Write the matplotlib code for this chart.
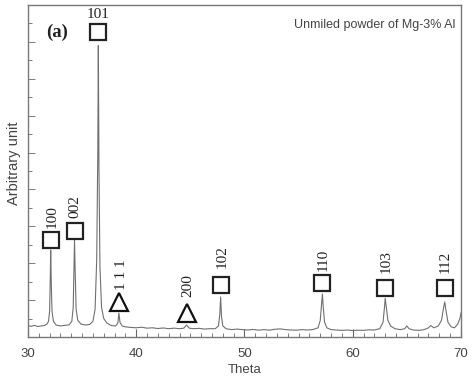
import matplotlib
matplotlib.use("Agg")
import matplotlib.pyplot as plt
from matplotlib.ticker import MultipleLocator, NullFormatter

# ---- data (theta, arbitrary intensity) ----
theta = [30.0, 30.3, 30.6, 30.9, 31.2, 31.5, 31.75,
         31.9, 32.0, 32.06, 32.1, 32.15, 32.22, 32.35, 32.6,
         33.0, 33.4, 33.8, 34.05, 34.18, 34.25, 34.3, 34.36, 34.45, 34.6,
         34.9, 35.3, 35.7, 36.0, 36.2, 36.35, 36.45, 36.5, 36.56, 36.65,
         36.8, 37.0, 37.3, 37.7, 38.1, 38.3, 38.4, 38.5, 38.7,
         39.0, 39.5, 40.0, 40.5, 41.0, 41.5, 42.0, 42.5, 43.0, 43.5,
         44.0, 44.4, 44.65, 44.9, 45.3, 45.8, 46.3, 46.8, 47.3,
         47.6, 47.72, 47.8, 47.88, 48.0, 48.3, 48.8, 49.3, 49.8,
         50.3, 50.8, 51.3, 51.8, 52.3, 52.8, 53.3, 53.8, 54.3, 54.8,
         55.3, 55.8, 56.3, 56.8, 57.0, 57.12, 57.2, 57.28, 57.4, 57.6,
         58.0, 58.5, 59.0, 59.5, 60.0, 60.5, 61.0, 61.5, 62.0, 62.5,
         62.8, 62.95, 63.0, 63.1, 63.25, 63.5, 63.9, 64.4, 64.8, 65.0,
         65.2, 65.6, 66.1, 66.6, 67.0, 67.2, 67.5, 67.9, 68.2, 68.4,
         68.5, 68.6, 68.8, 69.1, 69.4, 69.7, 69.9, 70.0]
intensity = [0.62, 0.58, 0.63, 0.57, 0.60, 0.62, 0.70,
             0.85, 1.4, 3.2, 4.72, 3.0, 1.4, 0.85, 0.65,
             0.60, 0.63, 0.66, 0.85, 1.6, 3.8, 5.26, 3.6, 1.5, 0.90,
             0.70, 0.65, 0.68, 0.85, 1.5, 4.2, 10.0, 15.8, 9.0, 3.8,
             1.6, 1.0, 0.75, 0.62, 0.60, 0.75, 1.3, 0.80, 0.60,
             0.55, 0.52, 0.50, 0.53, 0.48, 0.50, 0.46, 0.49, 0.45, 0.48,
             0.45, 0.48, 0.65, 0.48, 0.45, 0.47, 0.43, 0.45, 0.45,
             0.60, 1.2, 2.17, 1.1, 0.60, 0.45, 0.40, 0.43, 0.40,
             0.38, 0.41, 0.37, 0.40, 0.37, 0.42, 0.44, 0.40, 0.38, 0.37,
             0.40, 0.38, 0.40, 0.50, 0.90, 1.8, 2.33, 1.6, 0.80, 0.50,
             0.40, 0.38, 0.36, 0.38, 0.35, 0.37, 0.36, 0.39, 0.38, 0.45,
             0.80, 1.7, 2.1, 1.6, 0.90, 0.60, 0.45, 0.40, 0.45, 0.60,
             0.45, 0.38, 0.36, 0.40, 0.50, 0.62, 0.50, 0.60, 0.90, 1.6,
             1.9, 1.5, 0.80, 0.55, 0.50, 0.70, 1.0, 1.3]

# ---- peak annotations ----
peak_labels = ["100", "002", "101", "1 1 1", "200", "102", "110", "103", "112"]
peak_theta = [32.1, 34.3, 36.5, 38.45, 44.65, 47.8, 57.2, 63.0, 68.5]
peak_phase = ["Mg", "Mg", "Mg", "Al", "Al", "Mg", "Mg", "Mg", "Mg"]

# layout of the symbols / labels (axis units)
marker_y = [5.26, 5.75, 16.54, 1.9, 1.3, 2.82, 2.93, 2.66, 2.66]
label_y = [6.55, 7.05, 17.5, 3.4, 2.8, 4.34, 4.2, 4.07, 4.07]
label_dx = [0.1, 0.05, 0.0, 0.15, 0.1, 0.15, 0.05, 0.1, 0.05]

fig = plt.figure(figsize=(4.74, 3.79), dpi=100)
ax = fig.add_axes([0.059, 0.1108, 0.9135, 0.876])

ax.plot(theta, intensity, color="#707070", lw=0.8)

serif = "Liberation Serif"
for lab, x, ph, my, ly, dx in zip(peak_labels, peak_theta, peak_phase,
                                  marker_y, label_y, label_dx):
    if ph == "Mg":
        ax.plot([x], [my], marker="s", ms=12, mfc="white", mec="#222222",
                mew=1.6, clip_on=False)
    else:
        ax.plot([x], [my], marker="^", ms=13, mfc="white", mec="#111111",
                mew=1.6, clip_on=False)
    rot = 0 if lab == "101" else 90
    ax.text(x + dx, ly, lab, rotation=rot, ha="center", va="center",
            family=serif, fontsize=11, color="#222222")

ax.text(0.067, 0.918, "(a)", transform=ax.transAxes, family=serif,
        fontweight="bold", fontsize=13.5, ha="center", va="center",
        color="#222222")
ax.text(0.988, 0.94, "Unmiled powder of Mg-3% Al", transform=ax.transAxes,
        family="Liberation Sans", fontsize=9, ha="right", va="center",
        color="#444444")

ax.set_xlim(30, 70)
ax.set_ylim(0, 18)
ax.xaxis.set_major_locator(MultipleLocator(10))
ax.xaxis.set_minor_locator(MultipleLocator(1))
ax.yaxis.set_major_locator(MultipleLocator(2))
ax.yaxis.set_minor_locator(MultipleLocator(1))
ax.yaxis.set_major_formatter(NullFormatter())
ax.tick_params(axis="both", which="both", direction="in", colors="#666666",
               top=False, right=False)
ax.tick_params(axis="x", which="major", length=6, width=0.8,
               labelsize=9.5, labelcolor="#444444", pad=8)
ax.tick_params(axis="x", which="minor", length=3, width=0.6)
ax.tick_params(axis="y", which="major", length=5, width=0.6)
ax.tick_params(axis="y", which="minor", length=3, width=0.6)
for lab in ax.get_xticklabels():
    lab.set_family("Liberation Sans")

for s in ax.spines.values():
    s.set_color("#777777")
    s.set_linewidth(1.0)

ax.set_xlabel("Theta", family="Liberation Sans", fontsize=9.5,
              color="#444444", labelpad=3)
ax.set_ylabel("Arbitrary unit", family="Liberation Sans", fontsize=10.5,
              color="#444444")
ax.yaxis.label.set_va("center")
ax.yaxis.set_label_coords(-0.032, 0.524)

fig.savefig("out.png", dpi=100)
